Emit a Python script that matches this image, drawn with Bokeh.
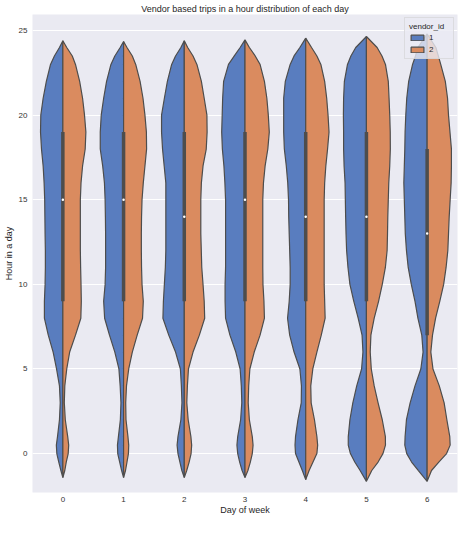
from bokeh.plotting import figure
from bokeh.models import ColumnDataSource, Legend, LegendItem, FixedTicker, Range1d
from bokeh.embed import file_html
from bokeh.resources import INLINE

TITLE = "Vendor based trips in a hour distribution of each day"
DAYS = [0, 1, 2, 3, 4, 5, 6]
VENDORS = ["1", "2"]
HOURS = [-1, -0.5, 0, 0.5, 1, 2, 3, 4, 5, 6, 7, 8, 9, 10, 11, 12, 13, 14, 15,
         16, 17, 18, 19, 20, 21, 22, 23, 23.5, 24]

# estimated density (relative) for each day, vendor 1 and vendor 2
D0_V1 = [2, 4.2, 6.2, 6.7, 5.5, 3.5, 2.7, 3.5, 6.5, 10, 15, 19, 19, 18.3, 18, 18, 18.3, 18.5, 18.7, 19.3, 20.3, 22, 23, 22.7, 20.3, 17, 12.7, 8.7, 3.5]
D0_V2 = [2, 3.5, 5.5, 6, 5, 2.5, 1.5, 2, 4, 7, 13, 18.5, 19, 18.7, 18.3, 18, 18, 18, 18, 18.7, 20.3, 23, 23.7, 22.3, 20.3, 17.3, 13, 9.7, 4]
D1_V1 = [2, 4, 6, 6.3, 5.3, 3.3, 2.7, 3.5, 4.8, 9, 14.5, 19.5, 20.5, 19, 18.5, 18.5, 18.5, 18.7, 19, 19.7, 21.5, 24, 24, 23, 20.5, 17.5, 13, 9, 3.5]
D1_V2 = [2, 3.5, 5, 5.3, 4.5, 2.5, 2.2, 3, 5.3, 9, 14, 19.5, 20.3, 19, 18.5, 18.3, 18.3, 18.5, 19, 20.3, 22, 23.7, 23.5, 22, 20, 17, 12.5, 9, 3.5]
D2_V1 = [2.5, 4.5, 6.5, 7.4, 6.5, 3.5, 2.4, 3, 4, 9, 16, 22, 21.5, 20.5, 19.5, 19, 19, 19, 19, 19, 20.7, 22.4, 23.4, 23.4, 20.5, 17.4, 13, 9, 3.5]
D2_V2 = [2.5, 5, 7, 7.6, 6.8, 4, 2.6, 3.2, 4.3, 9, 15.5, 21, 20.5, 19.3, 18, 17.5, 17, 17, 17, 17.6, 19.3, 22.6, 23.5, 23.3, 20.5, 17.6, 13, 9, 3.5]
D3_V1 = [3, 5.5, 7.5, 8.3, 7.5, 4.5, 3.3, 3.8, 5, 9.5, 15.5, 20, 20.5, 20.5, 20, 20, 20, 20, 20, 20.7, 21.7, 23.3, 24, 23.5, 23, 22, 17, 11, 5]
D3_V2 = [3, 5.5, 7.5, 8.3, 7.5, 4.5, 3.3, 3.8, 5, 9.5, 15.5, 20, 19.5, 18.5, 18.3, 18.3, 18.3, 18.3, 18.3, 19, 20.7, 23.5, 25, 24, 22.5, 20, 15.5, 10.5, 4.5]
D4_V1 = [3.5, 7, 10.5, 11, 10.5, 8, 4.6, 4.4, 6, 12, 16.5, 18.7, 17, 16, 16, 16.5, 17, 17.5, 17.7, 18.5, 20, 22, 22.7, 22.7, 22.7, 21, 16, 12, 6]
D4_V2 = [3.5, 7.5, 11.5, 12.3, 11.5, 9, 5.6, 5.2, 7.3, 11.5, 16, 20, 19.5, 19, 19, 19, 19, 19, 19, 19.5, 20.7, 22.5, 24, 23, 21.6, 19.5, 15.6, 11.5, 6]
D5_V1 = [6.5, 12, 16.5, 18.7, 18.7, 17, 14, 10, 5, 3.6, 4.5, 8.5, 13, 17, 19, 20.4, 21, 21.4, 21.7, 22, 23, 23.5, 23.5, 23.7, 23.5, 22.7, 19.5, 16, 11]
D5_V2 = [5.5, 12, 17, 19.6, 19.5, 16.3, 12, 8, 5, 3.9, 4.6, 8, 12.5, 16.3, 19.5, 21.3, 21.7, 22, 22.5, 23, 24, 24.6, 24.5, 24, 23.3, 22.5, 19.6, 16, 11]
D6_V1 = [9, 16, 21, 23, 22.7, 21.3, 17.5, 12.5, 6.5, 4.2, 5.5, 9.5, 12.5, 16.3, 19.5, 21.3, 22.5, 23, 23.5, 24, 23.5, 23, 22.7, 22, 21, 19, 15, 12, 9.5]
D6_V2 = [4.5, 12, 20, 23.7, 23.3, 20.3, 17.5, 12.5, 6, 3.8, 5.5, 8.7, 13, 17, 19.5, 21.3, 22, 22.7, 23.7, 24.7, 25, 25, 23.5, 22, 21, 18.7, 14, 11.5, 9]

TIP_LOW = [-1.42, -1.42, -1.42, -1.42, -1.54, -1.64, -1.64]
TIP_HIGH = [24.4, 24.35, 24.4, 24.45, 24.55, 24.65, 24.8]

Q1 = [9, 9, 9, 9, 9, 9, 7]
MEDIAN = [15, 15, 14, 15, 14, 14, 13]
Q3 = [19, 19, 19, 19, 19, 19, 18]

VENDOR1 = [D0_V1, D1_V1, D2_V1, D3_V1, D4_V1, D5_V1, D6_V1]
VENDOR2 = [D0_V2, D1_V2, D2_V2, D3_V2, D4_V2, D5_V2, D6_V2]

BLUE = "#597dbf"
ORANGE = "#da8b5f"
EDGE = "#4d4d4d"
FONT = "Liberation Sans"

# seaborn-like scaling: widest half-violin = 0.4 category widths
peak = max(max(max(d) for d in VENDOR1), max(max(d) for d in VENDOR2))
scale = 0.4 / peak


def half(day, dens, lo, hi, side):
    ys = [lo] + HOURS + [hi]
    ws = [0] + dens + [0]
    xs = [day + side * w * scale for w in ws]
    return xs, ys


xs1, ys1, xs2, ys2 = [], [], [], []
for i, d in enumerate(DAYS):
    a, b = half(d, VENDOR1[i], TIP_LOW[i], TIP_HIGH[i], -1)
    xs1.append(a); ys1.append(b)
    a, b = half(d, VENDOR2[i], TIP_LOW[i], TIP_HIGH[i], 1)
    xs2.append(a); ys2.append(b)

p = figure(width=458, height=517, x_range=Range1d(-0.5, 6.5),
           y_range=Range1d(-2.3, 25.95), output_backend="svg",
           toolbar_location=None, title=TITLE,
           min_border_left=0, min_border_right=1, min_border_top=0,
           min_border_bottom=0)

p.background_fill_color = "#eaeaf2"
p.border_fill_color = "white"
p.outline_line_color = None
p.title.text_font = FONT
p.title.text_font_size = "9px"
p.title.text_font_style = "normal"
p.title.text_color = "#262626"
p.title.align = "center"
p.title.standoff = 2

p.xgrid.grid_line_color = None
p.ygrid.grid_line_color = "white"
p.ygrid.grid_line_width = 1.2

p.xaxis.ticker = FixedTicker(ticks=DAYS)
p.yaxis.ticker = FixedTicker(ticks=[0, 5, 10, 15, 20, 25])
for ax in (p.xaxis, p.yaxis):
    ax.axis_line_color = None
    ax.major_tick_line_color = None
    ax.minor_tick_line_color = None
    ax.major_tick_out = 0
    ax.major_tick_in = 0
    ax.minor_tick_out = 0
    ax.minor_tick_in = 0
    ax.major_label_text_font = FONT
    ax.major_label_text_font_size = "8px"
    ax.major_label_text_color = "#333333"
    ax.axis_label_text_font = FONT
    ax.axis_label_text_font_size = "9px"
    ax.axis_label_text_font_style = "normal"
    ax.axis_label_text_color = "#262626"
p.xaxis.axis_label = "Day of week"
p.yaxis.axis_label = "Hour in a day"
p.xaxis.major_label_standoff = 4
p.xaxis.axis_label_standoff = 0
p.yaxis.major_label_standoff = 5
p.yaxis.axis_label_standoff = 2

r1 = p.patches(xs=xs1, ys=ys1, fill_color=BLUE, line_color=EDGE, line_width=1.2)
r2 = p.patches(xs=xs2, ys=ys2, fill_color=ORANGE, line_color=EDGE, line_width=1.2)

box = ColumnDataSource(dict(x=DAYS, q1=Q1, q3=Q3, med=MEDIAN))
p.segment(x0="x", y0="q1", x1="x", y1="q3", source=box, line_color=EDGE, line_width=3.5)
p.scatter(x="x", y="med", source=box, size=2.5, fill_color="white", line_color=None)

legend = Legend(items=[LegendItem(label=VENDORS[0], renderers=[r1]),
                       LegendItem(label=VENDORS[1], renderers=[r2])],
                title="vendor_id", location="top_right")
legend.title_text_font = FONT
legend.title_text_font_size = "8px"
legend.title_text_font_style = "normal"
legend.title_text_color = "#262626"
legend.title_standoff = 2
legend.label_text_font = FONT
legend.label_text_font_size = "8px"
legend.label_text_color = "#262626"
legend.glyph_width = 16
legend.glyph_height = 7
legend.label_height = 8
legend.label_standoff = 4
legend.spacing = 3
legend.padding = 4
legend.margin = 3
legend.background_fill_color = "#eaeaf2"
legend.background_fill_alpha = 0.8
legend.border_line_color = "#cccccc"
legend.border_line_width = 1
p.add_layout(legend)

open("out.html", "w").write(file_html(p, INLINE))
